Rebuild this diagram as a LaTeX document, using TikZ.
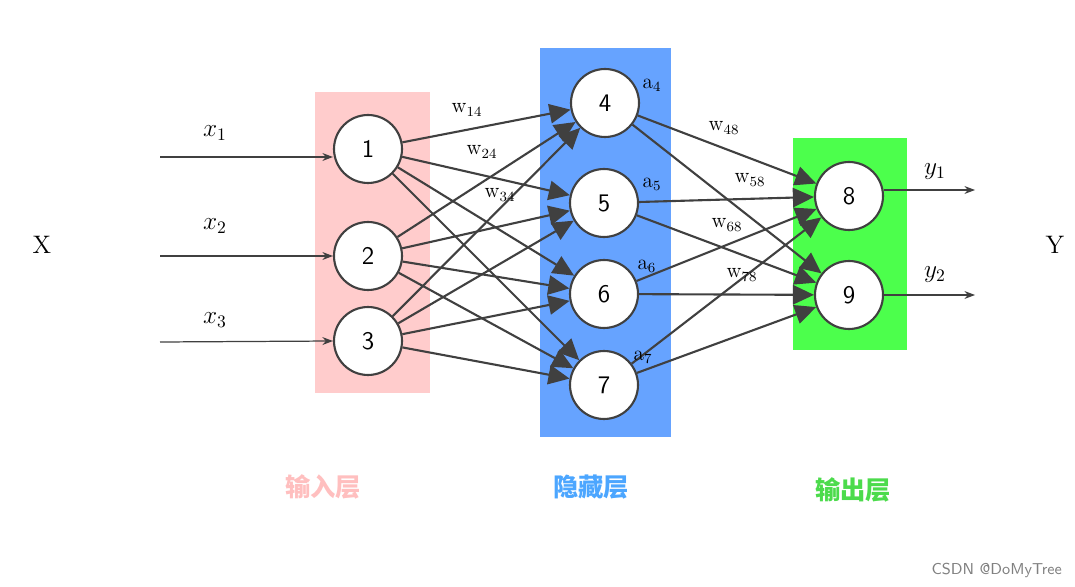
\documentclass[tikz,border=0pt]{standalone}
\usepackage{fontspec}
\newfontfamily\cjk{Noto Sans CJK SC}
\usetikzlibrary{arrows.meta}
\definecolor{edgegray}{HTML}{404040}
\tikzset{
  neuron/.style={circle,draw=edgegray,line width=1.2pt,fill=white,minimum size=1.36cm,inner sep=0pt,font=\Large\sffamily},
  link/.style={draw=edgegray,line width=1.2pt,-{Triangle[length=12pt,width=11pt]}},
  feed/.style={draw=edgegray,line width=0.7pt,-{Stealth[length=6pt]}},
  wlab/.style={font=\large},
  layer/.style={font=\cjk\bfseries\Large}
}
\begin{document}
\begin{tikzpicture}[x=0.02cm,y=-0.02cm]
		\useasboundingbox (0,0) rectangle (1075,587);
		% Layer boxes
		\fill[red!20!white] (315,92) rectangle (430,393);
		\fill[blue!60!cyan!60!white] (540,48) rectangle (671,437);
		\fill[green!70!white] (793,138) rectangle (907,350);
		
		% Neurons
		\node[neuron] (n1) at (368,149) {1};
		\node[neuron] (n2) at (368,256) {2};
		\node[neuron] (n3) at (368,341) {3};
		\node[neuron] (n4) at (605,103) {4};
		\node[neuron] (n5) at (604,203) {5};
		\node[neuron] (n6) at (604,294) {6};
		\node[neuron] (n7) at (604,385) {7};
		\node[neuron] (n8) at (849,196) {8};
		\node[neuron] (n9) at (849,295) {9};
		
		% Inputs
		\coordinate (i1) at (160,157);
		\coordinate (i2) at (160,256);
		\coordinate (i3) at (160,342);
		\draw[feed] (i1) -- (n1.west |- i1);
		\draw[feed] (i2) -- (n2.west);
		\draw[feed] (i3) -- (n3.west);
		\node[font=\Large] (x1) at (215,133) {$x_1$};
		\node[font=\Large] (x2) at (215,226) {$x_2$};
		\node[font=\Large] (x3) at (215,320) {$x_3$};
		\node[font=\Large] (X) at (42,245) {X};
		
		% Input to hidden
		\foreach \i in {1,2,3}
			\foreach \j in {4,5,6,7}
				\draw[link] (n\i) -- (n\j);
		
		% Hidden to output
		\foreach \j in {4,5,6,7}
			\foreach \k in {8,9}
				\draw[link] (n\j) -- (n\k);
		
		% Outputs
		\coordinate (o1) at (975,190);
		\coordinate (o2) at (975,295);
		\draw[feed] (n8.east |- o1) -- (o1);
		\draw[feed] (n9.east) -- (o2);
		\node[font=\Large] (y1) at (935,172) {$y_1$};
		\node[font=\Large] (y2) at (935,275) {$y_2$};
		\node[font=\Large] (Y) at (1055,245) {Y};
		
		% Weights and activations
		\node[wlab] (w14) at (467,110) {w$_{14}$};
		\node[wlab] (w24) at (482,152) {w$_{24}$};
		\node[wlab] (w34) at (500,195) {w$_{34}$};
		\node[wlab] (w48) at (724,128) {w$_{48}$};
		\node[wlab] (w58) at (750,180) {w$_{58}$};
		\node[wlab] (w68) at (727,225) {w$_{68}$};
		\node[wlab] (w78) at (742,275) {w$_{78}$};
		\node[wlab] (a4) at (652,85) {a$_4$};
		\node[wlab] (a5) at (652,184) {a$_5$};
		\node[wlab] (a6) at (647,266) {a$_6$};
		\node[wlab] (a7) at (643,357) {a$_7$};
		
		% Layer names
		\node[layer,text=red!25!white] (lin) at (323,487) {输入层};
		\node[layer,text=blue!50!cyan!70!white] (lhid) at (591,487) {隐藏层};
		\node[layer,text=green!80!black!70!white] (lout) at (853,490) {输出层};
		\node[font=\sffamily\small,text=gray,anchor=east] (mark) at (1068,570) {CSDN @DoMyTree};
	\end{tikzpicture}
\end{document}
